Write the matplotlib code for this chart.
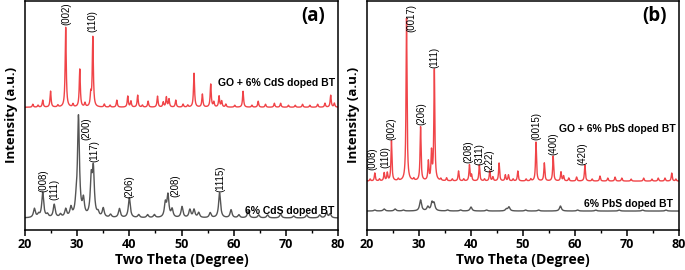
import numpy as np
import matplotlib.pyplot as plt
from matplotlib.ticker import MultipleLocator

# ---- data (intensity in arbitrary units) ----
# panel (a): GO + 6% CdS doped BT (red)
cds_go_base = 123
cds_go_pos = [21.5, 22.5, 23.4, 24.9, 26.3, 27.8, 29.2, 30.5, 31.5, 32.6, 33.0, 35.2, 36.3,
              37.6, 39.7, 40.3, 41.6, 42.5, 43.6, 45.4, 46.5, 47.1, 47.6, 48.9, 50.3, 51.2,
              52.4, 54.0, 55.6, 56.2, 57.2, 57.7, 58.5, 60.2, 61.8, 63.5, 64.7, 66.1, 67.8,
              69.0, 70.5, 71.8, 73.2, 74.6, 76.1, 77.5, 78.6, 79.3]
cds_go_h = [3, 2, 7, 16, 2, 80, 3, 38, 4, 12, 70, 3, 2,
            7, 11, 6, 12, 2, 6, 11, 5, 10, 8, 7, 3, 2,
            34, 13, 23, 5, 11, 6, 3, 2, 16, 2, 6, 3, 4,
            4, 2, 2, 3, 2, 3, 4, 12, 4]

# panel (a): 6% CdS doped BT (grey)
cds_base = 12
cds_pos = [21.8, 22.6, 23.4, 24.3, 25.6, 26.8, 27.8, 28.8, 29.8, 30.25, 31.2, 32.7, 33.1,
           34.0, 35.0, 36.4, 38.1, 40.0, 41.8, 43.5, 44.8, 46.9, 47.4, 48.2, 50.1, 51.6,
           52.4, 53.3, 55.5, 57.3, 59.5, 61.0, 62.8, 64.8, 66.5, 69.0, 71.5, 74.0, 76.5,
           77.8, 78.5]
cds_h = [9, 3, 25, 3, 13, 3, 8, 9, 10, 100, 16, 36, 45,
         4, 9, 3, 9, 20, 3, 3, 3, 14, 22, 8, 11, 8,
         8, 5, 5, 25, 8, 3, 7, 3, 3, 4, 2, 3, 3,
         5, 4]

# panel (b): GO + 6% PbS doped BT (red)
pbs_go_base = 49
pbs_go_pos = [20.6, 21.5, 22.4, 23.3, 23.9, 24.7, 26.0, 27.6, 29.0, 30.3, 31.8, 32.4, 32.95,
              34.2, 35.3, 36.4, 37.6, 38.6, 39.7, 40.1, 41.6, 42.6, 43.6, 44.2, 45.4, 46.6,
              47.2, 48.1, 49.0, 50.6, 51.5, 52.5, 54.1, 55.8, 57.3, 57.8, 58.8, 60.3, 61.9,
              63.3, 64.8, 66.3, 67.7, 69.0, 70.8, 73.2, 74.8, 76.0, 77.3, 78.6, 79.4]
pbs_go_h = [2, 8, 2, 8, 8, 40, 2, 163, 2, 54, 19, 28, 112,
            2, 3, 2, 10, 2, 16, 6, 16, 2, 10, 4, 18, 6,
            6, 2, 10, 2, 2, 39, 18, 25, 9, 5, 3, 4, 16,
            2, 5, 3, 4, 3, 2, 3, 2, 3, 3, 8, 2]

# panel (b): 6% PbS doped BT (grey)
pbs_base = 19
pbs_pos = [21.5, 23.3, 25.4, 27.0, 30.3, 31.7, 32.5, 32.9, 35.5, 38.0, 40.0, 43.0, 46.8,
           47.3, 50.5, 53.0, 57.2, 60.5, 64.0, 68.5, 73.0, 77.5]
pbs_h = [1, 2, 2, 1, 11, 4, 8, 7, 1, 1, 4, 1, 2,
         4, 1, 1, 5, 1, 1, 1, 1, 1]

# peak labels (hkl), 2theta, label bottom
a_lab = ['(002)', '(110)', '(200)', '(117)', '(008)', '(111)', '(206)', '(208)', '(1115)']
a_lab_x = [27.85, 33.0, 31.7, 33.3, 23.5, 25.6, 40.1, 48.9, 57.4]
a_lab_y = [205, 198, 90, 68, 38, 30, 32, 33, 38]

b_lab = ['(008)', '(110)', '(002)', '(0017)', '(206)', '(111)', '(208)', '(311)', '(222)',
         '(0015)', '(400)', '(420)']
b_lab_x = [21.0, 23.6, 24.75, 28.6, 30.5, 32.95, 39.5, 41.6, 43.5, 52.5, 55.8, 61.4]
b_lab_y = [60, 62, 90, 198, 105, 162, 67, 65, 58, 90, 75, 65]

RED = '#f04448'
GREY = '#555555'

tt = np.linspace(20, 80, 3001)


def pattern(base, pos, h, w):
    y = np.full_like(tt, float(base))
    for p, hh in zip(pos, h):
        y += hh * w**2 / ((tt - p)**2 + w**2)
    return y


plt.rcParams['font.family'] = ['Liberation Sans', 'DejaVu Sans']
fig = plt.figure(figsize=(6.85, 2.7), dpi=100)
ax_a = fig.add_axes([25/685, 40/270, 313/685, 230/270 - 0.002])
ax_b = fig.add_axes([367/685, 40/270, 312/685, 230/270 - 0.002])

ax_a.plot(tt, pattern(cds_go_base, cds_go_pos, cds_go_h, 0.12), color=RED, lw=1.0)
ax_a.plot(tt, pattern(cds_base, cds_pos, cds_h, 0.22), color=GREY, lw=1.0)
ax_b.plot(tt, pattern(pbs_go_base, pbs_go_pos, pbs_go_h, 0.11), color=RED, lw=1.0)
ax_b.plot(tt, pattern(pbs_base, pbs_pos, pbs_h, 0.22), color=GREY, lw=1.0)

for lab, x, y in zip(a_lab, a_lab_x, a_lab_y):
    ax_a.text(x, y, lab, rotation=90, ha='center', va='bottom', fontsize=7)
for lab, x, y in zip(b_lab, b_lab_x, b_lab_y):
    ax_b.text(x, y, lab, rotation=90, ha='center', va='bottom', fontsize=7)

ax_a.text(79.4, 147, 'GO + 6% CdS doped BT', ha='right', va='center', fontsize=7.5, fontweight='bold')
ax_a.text(79.4, 19, '6% CdS doped BT', ha='right', va='center', fontsize=7.5, fontweight='bold')
ax_b.text(79.4, 101, 'GO + 6% PbS doped BT', ha='right', va='center', fontsize=7.5, fontweight='bold')
ax_b.text(78.8, 26, '6% PbS doped BT', ha='right', va='center', fontsize=7.5, fontweight='bold')

ax_a.text(75.2, 215, '(a)', ha='center', va='center', fontsize=13.5, fontweight='bold',
          family='Open Sans')
ax_b.text(75.2, 215, '(b)', ha='center', va='center', fontsize=13.5, fontweight='bold',
          family='Open Sans')

for ax in (ax_a, ax_b):
    ax.set_xlim(20, 80)
    ax.set_ylim(0, 230)
    ax.set_yticks([])
    ax.xaxis.set_major_locator(MultipleLocator(10))
    ax.xaxis.set_minor_locator(MultipleLocator(5))
    ax.tick_params(axis='x', which='major', direction='out', length=4, width=1.1, pad=2)
    ax.tick_params(axis='x', which='minor', direction='out', length=2.5, width=1.0)
    for lab in ax.get_xticklabels():
        lab.set_fontweight('bold')
        lab.set_fontsize(9)
        lab.set_family('Open Sans')
    for s in ax.spines.values():
        s.set_linewidth(1.1)
    ax.set_xlabel('Two Theta (Degree)', fontsize=10, fontweight='bold', family='Open Sans', labelpad=1)
    ax.set_ylabel('Intensity (a.u.)', fontsize=9.5, fontweight='bold', family='Open Sans', labelpad=5)

fig.savefig('out.png', dpi=100)
